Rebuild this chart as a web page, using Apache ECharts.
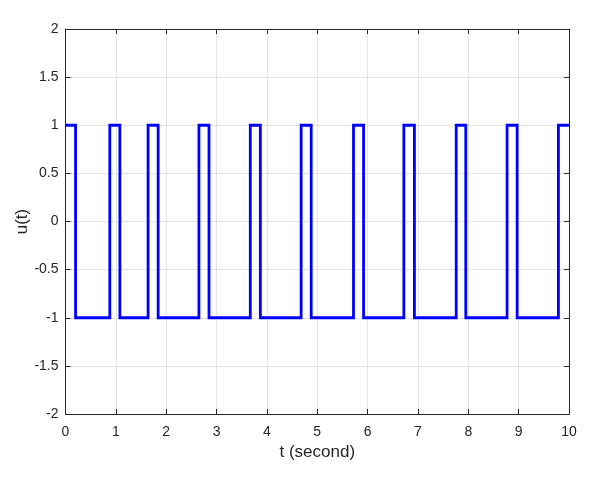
<!DOCTYPE html>
<html>
<head>
<meta charset="utf-8">
<script src="https://cdn.jsdelivr.net/npm/echarts@6/dist/echarts.min.js"></script>
<style>
html,body{margin:0;padding:0;background:#fff;}
#c{width:596px;height:495px;}
</style>
</head>
<body>
<div id="c"></div>
<script>
// switching times (seconds) of the control signal u(t)
const startValue = 1;
const fallTimes = [0.20, 1.08, 1.84, 2.85, 3.87, 4.88, 5.92, 6.93, 7.95, 8.97];
const riseTimes = [0.88, 1.64, 2.65, 3.67, 4.68, 5.72, 6.72, 7.76, 8.77, 9.79];
const endTime = 10;
const highValue = 1;
const lowValue = -1;
const xTicks = [0,1,2,3,4,5,6,7,8,9,10];
const yTicks = [-2,-1.5,-1,-0.5,0,0.5,1,1.5,2];

// build step points
const events = [];
fallTimes.forEach(t => events.push([t, lowValue]));
riseTimes.forEach(t => events.push([t, highValue]));
events.sort((a,b)=>a[0]-b[0]);
const data = [[0, startValue]].concat(events);
data.push([endTime, data[data.length-1][1]]);

const axisColor = '#262626';
const font = 'Arial, "Liberation Sans", sans-serif';
const chart = echarts.init(document.getElementById('c'), null, {renderer:'canvas'});
chart.setOption({
  animation:false,
  backgroundColor:'#ffffff',
  grid:{left:65.5, right:27, top:29, bottom:81},
  xAxis:[{
    type:'value', min:xTicks[0], max:xTicks[xTicks.length-1], interval:1,
    name:'t (second)', nameLocation:'middle', nameGap:27,
    nameTextStyle:{color:axisColor, fontSize:17, fontFamily:font},
    axisLine:{show:true, onZero:false, lineStyle:{color:axisColor, width:1}},
    axisTick:{show:true, inside:true, length:5, lineStyle:{color:axisColor}},
    axisLabel:{color:axisColor, fontSize:14, fontFamily:font, margin:11},
    splitLine:{show:true, lineStyle:{color:'#e3e3e3', width:1}}
  },{
    type:'value', position:'top', min:0, max:10, interval:1,
    axisLine:{show:true, onZero:false, lineStyle:{color:axisColor, width:1}},
    axisTick:{show:true, inside:true, length:5, lineStyle:{color:axisColor}},
    axisLabel:{show:false}, splitLine:{show:false}
  }],
  yAxis:[{
    type:'value', min:yTicks[0], max:yTicks[yTicks.length-1], interval:0.5,
    name:'u(t)', nameLocation:'middle', nameGap:35, nameRotate:90,
    nameMoveOverlap:false,
    nameTextStyle:{color:axisColor, fontSize:17, fontFamily:font},
    axisLine:{show:true, onZero:false, lineStyle:{color:axisColor, width:1}},
    axisTick:{show:true, inside:true, length:5, lineStyle:{color:axisColor}},
    axisLabel:{color:axisColor, fontSize:14, fontFamily:font, margin:7},
    splitLine:{show:true, lineStyle:{color:'#e3e3e3', width:1}}
  },{
    type:'value', position:'right', min:-2, max:2, interval:0.5,
    axisLine:{show:true, onZero:false, lineStyle:{color:axisColor, width:1}},
    axisTick:{show:true, inside:true, length:5, lineStyle:{color:axisColor}},
    axisLabel:{show:false}, splitLine:{show:false}
  }],
  series:[{
    type:'line', step:'end', data:data, xAxisIndex:0, yAxisIndex:0,
    showSymbol:false, symbol:'none',
    lineStyle:{color:'#0000ff', width:2.8, join:'miter', cap:'butt'}
  }]
});
</script>
</body>
</html>
